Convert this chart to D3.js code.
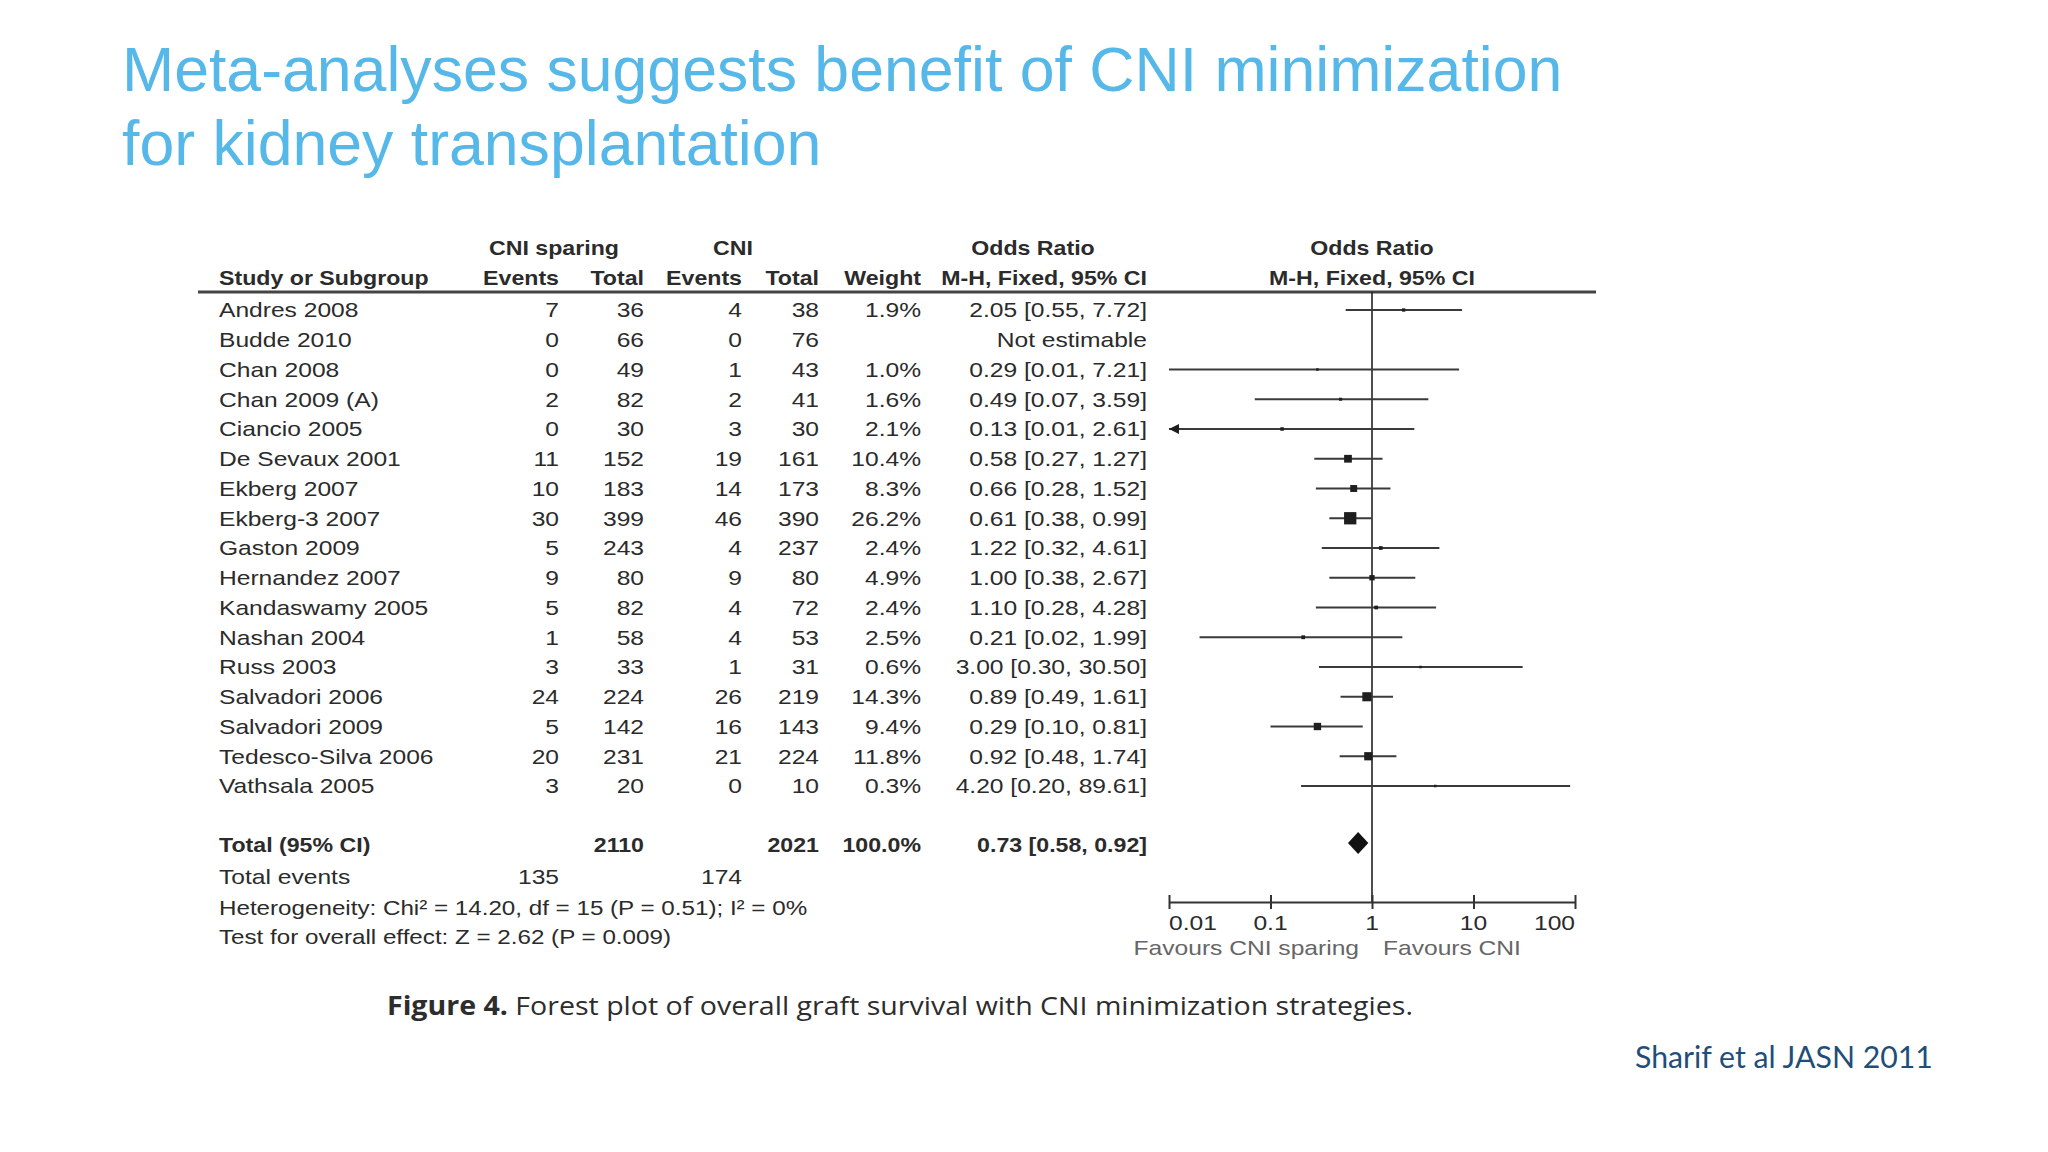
<!DOCTYPE html>
<html>
<head>
<meta charset="utf-8">
<script src="https://cdn.jsdelivr.net/npm/d3@7"></script>
<style>
  html, body { margin: 0; padding: 0; background: #fff; }
  svg { display: block; }
</style>
</head>
<body>
<svg id="chart" width="2048" height="1152"></svg>
<script>
const studies = [
  "Andres 2008", "Budde 2010", "Chan 2008", "Chan 2009 (A)", "Ciancio 2005",
  "De Sevaux 2001", "Ekberg 2007", "Ekberg-3 2007", "Gaston 2009", "Hernandez 2007",
  "Kandaswamy 2005", "Nashan 2004", "Russ 2003", "Salvadori 2006", "Salvadori 2009",
  "Tedesco-Silva 2006", "Vathsala 2005"
];
const spEvents  = [7, 0, 0, 2, 0, 11, 10, 30, 5, 9, 5, 1, 3, 24, 5, 20, 3];
const spTotal   = [36, 66, 49, 82, 30, 152, 183, 399, 243, 80, 82, 58, 33, 224, 142, 231, 20];
const cniEvents = [4, 0, 1, 2, 3, 19, 14, 46, 4, 9, 4, 4, 1, 26, 16, 21, 0];
const cniTotal  = [38, 76, 43, 41, 30, 161, 173, 390, 237, 80, 72, 53, 31, 219, 143, 224, 10];
const weights   = [1.9, null, 1.0, 1.6, 2.1, 10.4, 8.3, 26.2, 2.4, 4.9, 2.4, 2.5, 0.6, 14.3, 9.4, 11.8, 0.3];
const oddsRatio = [2.05, null, 0.29, 0.49, 0.13, 0.58, 0.66, 0.61, 1.22, 1.00, 1.10, 0.21, 3.00, 0.89, 0.29, 0.92, 4.20];
const ciLow     = [0.55, null, 0.01, 0.07, 0.01, 0.27, 0.28, 0.38, 0.32, 0.38, 0.28, 0.02, 0.30, 0.49, 0.10, 0.48, 0.20];
const ciHigh    = [7.72, null, 7.21, 3.59, 2.61, 1.27, 1.52, 0.99, 4.61, 2.67, 4.28, 1.99, 30.50, 1.61, 0.81, 1.74, 89.61];
const clippedLeft = ["Ciancio 2005"];

const totalN = [2110, 2021];
const totalEvents = [135, 174];
const totalOR = [0.73, 0.58, 0.92];
const axisTicks = [0.01, 0.1, 1, 10, 100];
const axisTickLabels = ["0.01", "0.1", "1", "10", "100"];

const titleLines = ["Meta-analyses suggests benefit of CNI minimization", "for kidney transplantation"];

const FONT = "'Liberation Sans', Arial, Helvetica, sans-serif";
const SX = 1.2;          // figure bitmap is stretched horizontally
const SX_BOLD = 1.13;
const FS = 20.5;
const TXT = "#2b2b2b";

const svg = d3.select("#chart");

function label(g, x, y, str, opts = {}) {
  const sx = opts.sx ?? (opts.bold ? SX_BOLD : SX);
  return g.append("text")
    .attr("transform", `translate(${x},${y}) scale(${sx},1)`)
    .attr("text-anchor", opts.anchor || "start")
    .attr("font-family", opts.font || FONT)
    .attr("font-size", opts.size || FS)
    .attr("font-weight", opts.bold ? "bold" : "normal")
    .attr("fill", opts.fill || TXT)
    .text(str);
}

function fitWidth(sel, x, y, w) {
  const n = sel.node().getComputedTextLength();
  sel.attr("transform", `translate(${x},${y}) scale(${w / n},1)`);
}

// title
svg.append("g").selectAll("text")
  .data(titleLines)
  .enter()
  .append("text")
  .attr("x", 122)
  .attr("y", (d, i) => 91 + i * 74)
  .attr("font-family", FONT)
  .attr("font-size", 62.6)
  .attr("fill", "#55b8e8")
  .text(d => d);

const fig = svg.append("g");

// columns (right edges, name is left edge)
const col = { name: 219, ev1: 559, tot1: 644, ev2: 742, tot2: 819, weight: 921, or: 1147 };

const y = d3.scalePoint().domain(studies).range([310, 786]);
const x = d3.scaleLog().domain([0.01, 100]).range([1169, 1575]);
const base = 7.3;

// header
label(fig, 554, 248 + base, "CNI sparing", { anchor: "middle", bold: true });
label(fig, 733, 248 + base, "CNI", { anchor: "middle", bold: true });
label(fig, 1033, 248 + base, "Odds Ratio", { anchor: "middle", bold: true });
label(fig, x(1), 248 + base, "Odds Ratio", { anchor: "middle", bold: true });

const hy = 278 + base;
label(fig, col.name, hy, "Study or Subgroup", { bold: true });
label(fig, col.ev1, hy, "Events", { anchor: "end", bold: true });
label(fig, col.tot1, hy, "Total", { anchor: "end", bold: true });
label(fig, col.ev2, hy, "Events", { anchor: "end", bold: true });
label(fig, col.tot2, hy, "Total", { anchor: "end", bold: true });
label(fig, col.weight, hy, "Weight", { anchor: "end", bold: true });
label(fig, col.or, hy, "M-H, Fixed, 95% CI", { anchor: "end", bold: true });
label(fig, x(1), hy, "M-H, Fixed, 95% CI", { anchor: "middle", bold: true });

fig.append("line")
  .attr("x1", 198).attr("x2", 1596)
  .attr("y1", 292).attr("y2", 292)
  .attr("stroke", "#444").attr("stroke-width", 3);

// study rows
studies.forEach((s, i) => {
  const yy = y(s) + base;
  label(fig, col.name, yy, s);
  label(fig, col.ev1, yy, spEvents[i], { anchor: "end" });
  label(fig, col.tot1, yy, spTotal[i], { anchor: "end" });
  label(fig, col.ev2, yy, cniEvents[i], { anchor: "end" });
  label(fig, col.tot2, yy, cniTotal[i], { anchor: "end" });
  if (weights[i] != null) label(fig, col.weight, yy, weights[i].toFixed(1) + "%", { anchor: "end" });
  const orText = oddsRatio[i] == null
    ? "Not estimable"
    : `${oddsRatio[i].toFixed(2)} [${ciLow[i].toFixed(2)}, ${ciHigh[i].toFixed(2)}]`;
  label(fig, col.or, yy, orText, { anchor: "end" });
});

// total block
const ty = 845 + base;
label(fig, col.name, ty, "Total (95% CI)", { bold: true });
label(fig, col.tot1, ty, totalN[0], { anchor: "end", bold: true });
label(fig, col.tot2, ty, totalN[1], { anchor: "end", bold: true });
label(fig, col.weight, ty, "100.0%", { anchor: "end", bold: true });
label(fig, col.or, ty, `${totalOR[0].toFixed(2)} [${totalOR[1].toFixed(2)}, ${totalOR[2].toFixed(2)}]`, { anchor: "end", bold: true });

label(fig, col.name, 877 + base, "Total events");
label(fig, col.ev1, 877 + base, totalEvents[0], { anchor: "end" });
label(fig, col.ev2, 877 + base, totalEvents[1], { anchor: "end" });
label(fig, col.name, 908 + base, "Heterogeneity: Chi\u00b2 = 14.20, df = 15 (P = 0.51); I\u00b2 = 0%", { sx: 1.18 });
label(fig, col.name, 937 + base, "Test for overall effect: Z = 2.62 (P = 0.009)", { sx: 1.18 });

// forest plot
const plot = fig.append("g");
const axisY = 902;

plot.append("line")
  .attr("x1", x(1)).attr("x2", x(1))
  .attr("y1", 292).attr("y2", axisY)
  .attr("stroke", "#222").attr("stroke-width", 1.6);

const rows = studies.map((s, i) => ({ s, or: oddsRatio[i], lo: ciLow[i], hi: ciHigh[i], w: weights[i] }))
  .filter(d => d.or != null);
const side = d => Math.max(2.5, Math.sqrt(d.w) * 2.4);

plot.selectAll("line.ci")
  .data(rows)
  .enter()
  .append("line")
  .attr("class", "ci")
  .attr("x1", d => x(d.lo)).attr("x2", d => x(d.hi))
  .attr("y1", d => y(d.s)).attr("y2", d => y(d.s))
  .attr("stroke", "#3a3a3a").attr("stroke-width", 2);

plot.selectAll("rect.sq")
  .data(rows)
  .enter()
  .append("rect")
  .attr("class", "sq")
  .attr("width", side)
  .attr("height", side)
  .attr("x", d => x(d.or) - side(d) / 2)
  .attr("y", d => y(d.s) - side(d) / 2)
  .attr("fill", "#1e1e1e");

plot.selectAll("path.arrow")
  .data(rows.filter(d => clippedLeft.includes(d.s)))
  .enter()
  .append("path")
  .attr("class", "arrow")
  .attr("d", d => `M${x(d.lo)},${y(d.s)} l10,-5 l0,10 z`)
  .attr("fill", "#1e1e1e");

// pooled diamond
const dy0 = 843;
plot.append("path")
  .attr("d", `M${x(totalOR[1])},${dy0} L${x(totalOR[0])},${dy0 - 11} L${x(totalOR[2])},${dy0} L${x(totalOR[0])},${dy0 + 11} Z`)
  .attr("fill", "#111");

// axis
const axis = plot.append("g")
  .attr("transform", `translate(0,${axisY})`)
  .call(d3.axisBottom(x).tickValues(axisTicks).tickSizeOuter(0).tickFormat(""));
axis.select(".domain").attr("stroke", "#333").attr("stroke-width", 2);
axis.selectAll(".tick line").attr("y1", -7).attr("y2", 7).attr("stroke", "#333").attr("stroke-width", 2);

axisTicks.forEach((t, i) => {
  const anchor = i === 0 ? "start" : i === axisTicks.length - 1 ? "end" : "middle";
  label(plot, x(t), 930, axisTickLabels[i], { anchor });
});
label(plot, x(1) - 13, 955, "Favours CNI sparing", { anchor: "end", fill: "#666" });
label(plot, x(1) + 11, 955, "Favours CNI", { fill: "#666" });

// caption
const cap = svg.append("text")
  .attr("font-family", "'Open Sans', sans-serif")
  .attr("font-size", 26)
  .attr("fill", "#2d2d2d");
cap.append("tspan").attr("font-weight", "bold").text("Figure 4.");
cap.append("tspan").text("  Forest plot of overall graft survival with CNI minimization strategies.");
fitWidth(cap, 387, 1015, 1026);

// citation
const cite = svg.append("text")
  .attr("font-family", "Lato, 'Open Sans', sans-serif")
  .attr("font-size", 31)
  .attr("fill", "#1f4e79")
  .text("Sharif et al JASN 2011");
fitWidth(cite, 1635, 1068, 298);
</script>
</body>
</html>
